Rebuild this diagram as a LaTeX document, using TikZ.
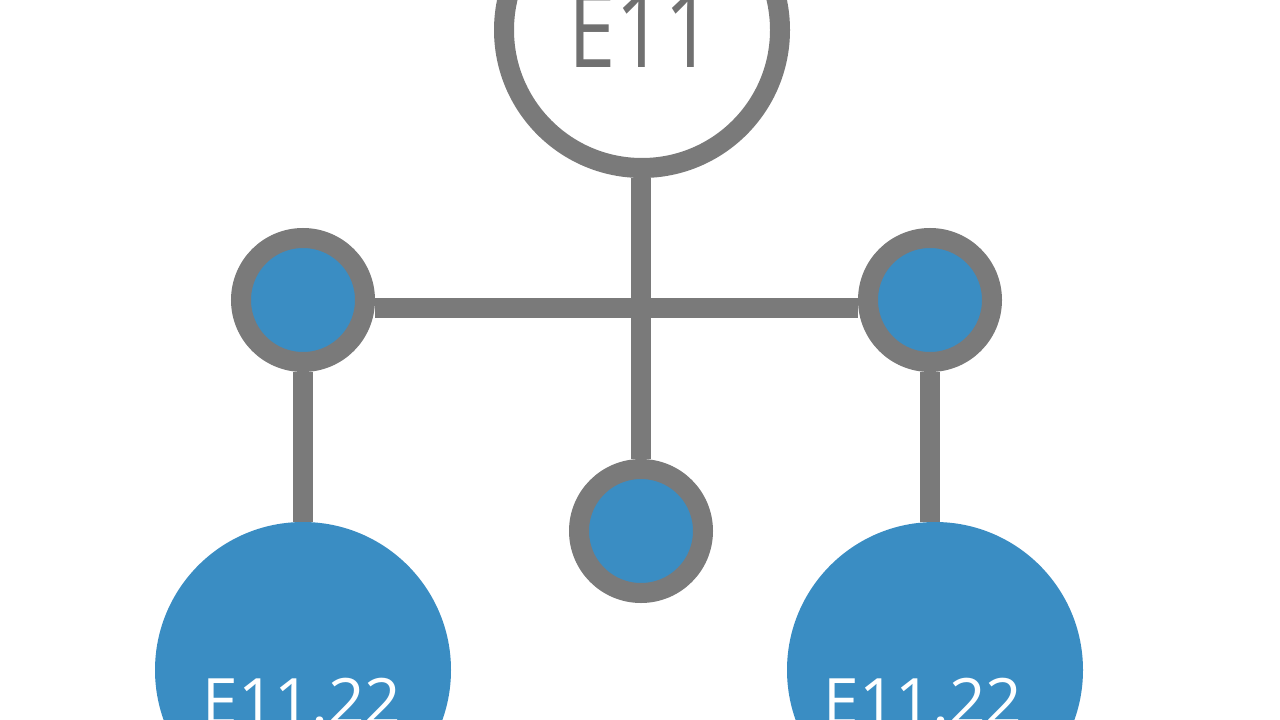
\documentclass[tikz,border=0pt]{standalone}
\usepackage{fontspec}
\setmainfont{Open Sans}
\definecolor{linegray}{HTML}{7A7A7A}
\definecolor{textgray}{HTML}{707070}
\definecolor{nodeblue}{HTML}{3A8DC3}
\begin{document}
\begin{tikzpicture}[x=1pt,y=-1pt,
  ring/.style={circle,draw=linegray,line width=20pt,fill=nodeblue,minimum size=124pt,inner sep=0pt},
  topring/.style={circle,draw=linegray,line width=20pt,fill=white,minimum size=276pt,inner sep=0pt},
  bigdisk/.style={circle,fill=nodeblue,minimum size=296pt,inner sep=0pt},
  conn/.style={draw=linegray,line width=20pt}]
\useasboundingbox (0,0) rectangle (1280,720);
\fill[white] (0,0) rectangle (1280,720);
% nodes
\node[topring] (top) at (642,30) {};
\node[ring] (L) at (303,300) {};
\node[ring] (R) at (930,300) {};
\node[ring] (M) at (641,531) {};
\node[bigdisk] (BL) at (303,670) {};
\node[bigdisk] (BR) at (935,670) {};
\coordinate (J) at (641,308);
% connectors
\draw[conn] (top.south -| M) -- (M.north);
\draw[conn] (L.east |- J) -- (R.west |- J);
\draw[conn] (L.south) -- (BL.north -| L.south);
\draw[conn] (R.south) -- (BR.north -| R.south);
% labels
\node[anchor=base,text=textgray,inner sep=0pt] (tl) at (641,67)
  {\fontsize{104}{104}\selectfont\scalebox{0.82}[1]{E11}};
\node[anchor=base,text=white,inner sep=0pt] (bll) at (302,724)
  {\fontsize{64}{64}\selectfont E11.22};
\node[anchor=base,text=white,inner sep=0pt] (brl) at (923,724)
  {\fontsize{64}{64}\selectfont E11.22};
\end{tikzpicture}
\end{document}
